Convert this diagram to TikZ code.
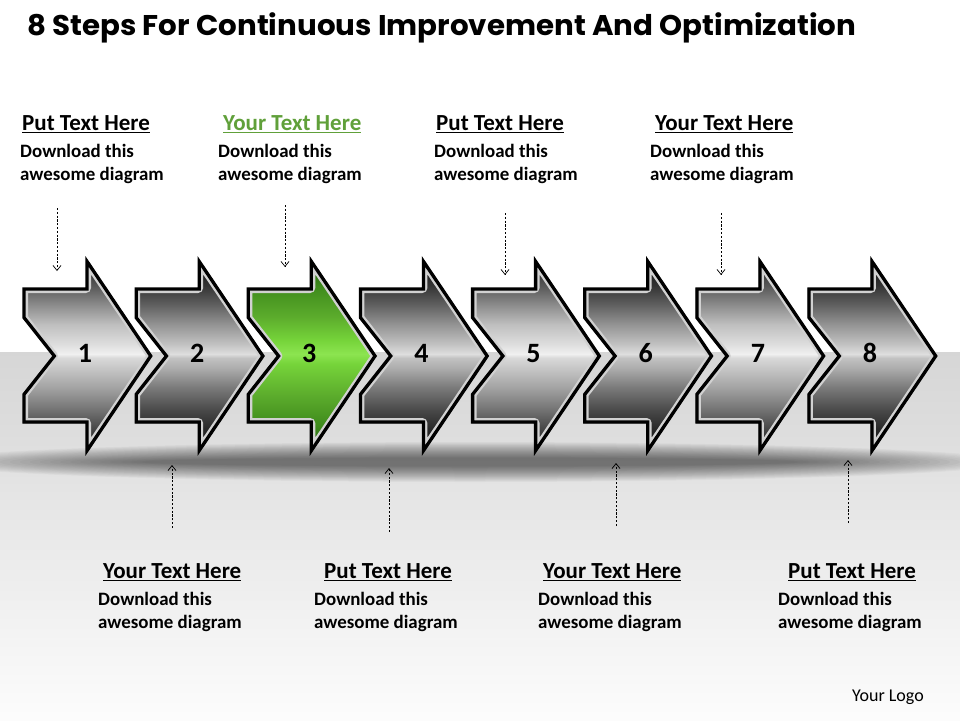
\documentclass[tikz,border=0pt]{standalone}
\usepackage{fontspec}
\setmainfont{Carlito}
\newfontfamily\titlefont{Poppins}
\usetikzlibrary{arrows.meta}
\definecolor{labelgreen}{RGB}{96,160,58}
\definecolor{gA}{RGB}{30,85,10}
\definecolor{gB}{RGB}{62,138,28}
\definecolor{gC}{RGB}{92,172,44}
\definecolor{gD}{RGB}{118,212,58}
\definecolor{gE}{RGB}{140,228,80}
\pgfdeclareverticalshading{arrowlight}{100bp}{color(0bp)=(black!92); color(25bp)=(black!92); color(31bp)=(black!74); color(36bp)=(black!56); color(42bp)=(black!36); color(47bp)=(black!22); color(49.5bp)=(black!15); color(50.5bp)=(black!6); color(53bp)=(black!13); color(58bp)=(black!25); color(63bp)=(black!45); color(68bp)=(black!66); color(75bp)=(black!90); color(100bp)=(black!90)}
\pgfdeclareverticalshading{arrowdark}{100bp}{color(0bp)=(black!95); color(25bp)=(black!95); color(31bp)=(black!85); color(36bp)=(black!72); color(42bp)=(black!52); color(47bp)=(black!32); color(49.5bp)=(black!24); color(50.5bp)=(black!13); color(53bp)=(black!24); color(58bp)=(black!42); color(63bp)=(black!62); color(68bp)=(black!80); color(75bp)=(black!95); color(100bp)=(black!95)}
\pgfdeclareverticalshading{arrowgreen}{100bp}{color(0bp)=(gA); color(25bp)=(gA); color(32bp)=(gB); color(40bp)=(gC); color(48bp)=(gD); color(50.5bp)=(gE); color(54bp)=(gD); color(60bp)=(gC); color(68bp)=(gB); color(75bp)=(gA); color(100bp)=(gA)}
\pgfdeclareverticalshading{floor}{100bp}{color(0bp)=(black!1); color(25bp)=(black!1); color(41bp)=(black!6); color(55bp)=(black!10); color(63bp)=(black!13); color(75bp)=(black!16); color(100bp)=(black!16)}
\newcommand\myul[1]{\setbox0\hbox{#1}\rlap{\rule[-3pt]{\wd0}{1.3pt}}\box0}
\def\arrowshape#1{(#1,288) -- ({#1+63},288) -- ({#1+63},258) -- ({#1+129},356) -- ({#1+63},454) -- ({#1+63},423) -- (#1,423) -- (#1,394) -- ({#1+30},356) -- (#1,318) -- cycle}
\tikzset{
  head/.style={anchor=base west, inner sep=0pt, font=\fontsize{23}{27}\selectfont\bfseries},
  body/.style={anchor=base west, inner sep=0pt, font=\fontsize{18.9}{23}\selectfont\bfseries},
  num/.style={anchor=base, inner sep=0pt, font=\fontsize{28}{30}\selectfont\bfseries},
  pointer/.style={draw=black, line width=0.7pt, dash pattern=on 2.2pt off 1.6pt, -{Straight Barb[length=5pt,width=8pt,line width=0.7pt]}},
  bevel/.style={draw=white!82!black, line join=round}
}
\begin{document}
\begin{tikzpicture}[x=1pt,y=-1pt]
\useasboundingbox (0,0) rectangle (960,720);
\fill[white] (0,0) rectangle (960,720);
% floor
\shade[shading=floor] (0,352) rectangle (960,720);
\foreach \k in {0,...,21}{
  \fill[black, opacity=0.028] (470,462) ellipse ({540-\k*10} and {20-\k*0.75});
}
% title
\node[anchor=base west, inner sep=0pt] (title) at (27,35) {\resizebox{829pt}{\height}{\titlefont\bfseries\fontsize{28.5}{32}\selectfont 8 Steps For Continuous Improvement And Optimization}};
% arrows
\foreach \i/\sh in {1/arrowlight,2/arrowdark,3/arrowgreen,4/arrowdark,5/arrowlight,6/arrowdark,7/arrowlight,8/arrowdark}{
  \pgfmathsetmacro\L{23+(\i-1)*112.14}
  \begin{scope}
    \clip \arrowshape{\L};
    \shade[shading=\sh] \arrowshape{\L};
    \draw[bevel, line width=10pt] \arrowshape{\L};
    \draw[black, line width=5.4pt, line join=miter] \arrowshape{\L};
  \end{scope}
  \draw[black, line width=1.2pt, line join=miter] \arrowshape{\L};
  \node[num] (n\i) at ({\L+62},362) {\i};
}
% top labels
\node[head] (h1) at (22,130) {\myul{Put Text Here}};
\node[body] (b1a) at (20,157) {Download this};
\node[body] (b1b) at (20,180) {awesome diagram};
\node[head, text=labelgreen] (h2) at (223,130) {\myul{Your Text Here}};
\node[body] (b2a) at (218,157) {Download this};
\node[body] (b2b) at (218,180) {awesome diagram};
\node[head] (h3) at (436,130) {\myul{Put Text Here}};
\node[body] (b3a) at (434,157) {Download this};
\node[body] (b3b) at (434,180) {awesome diagram};
\node[head] (h4) at (655,130) {\myul{Your Text Here}};
\node[body] (b4a) at (650,157) {Download this};
\node[body] (b4b) at (650,180) {awesome diagram};
% bottom labels
\node[head] (h5) at (103,578) {\myul{Your Text Here}};
\node[body] (b5a) at (98,605) {Download this};
\node[body] (b5b) at (98,628) {awesome diagram};
\node[head] (h6) at (324,578) {\myul{Put Text Here}};
\node[body] (b6a) at (314,605) {Download this};
\node[body] (b6b) at (314,628) {awesome diagram};
\node[head] (h7) at (543,578) {\myul{Your Text Here}};
\node[body] (b7a) at (538,605) {Download this};
\node[body] (b7b) at (538,628) {awesome diagram};
\node[head] (h8) at (788,578) {\myul{Put Text Here}};
\node[body] (b8a) at (778,605) {Download this};
\node[body] (b8b) at (778,628) {awesome diagram};
% logo
\node[anchor=base west, inner sep=0pt, font=\fontsize{18}{22}\selectfont] (logo) at (852,701) {Your Logo};
% pointers
\coordinate (p1s) at (57,208); \coordinate (p1e) at (57,271);
\coordinate (p2s) at (285,205); \coordinate (p2e) at (285,267);
\coordinate (p3s) at (505,213); \coordinate (p3e) at (505,275);
\coordinate (p4s) at (721,213); \coordinate (p4e) at (721,275);
\coordinate (p5s) at (172,528); \coordinate (p5e) at (172,465);
\coordinate (p6s) at (389,532); \coordinate (p6e) at (389,468);
\coordinate (p7s) at (616,526); \coordinate (p7e) at (616,463);
\coordinate (p8s) at (848,523); \coordinate (p8e) at (848,460);
\foreach \j in {1,...,8}{\draw[pointer] (p\j s) -- (p\j e);}
\end{tikzpicture}
\end{document}
